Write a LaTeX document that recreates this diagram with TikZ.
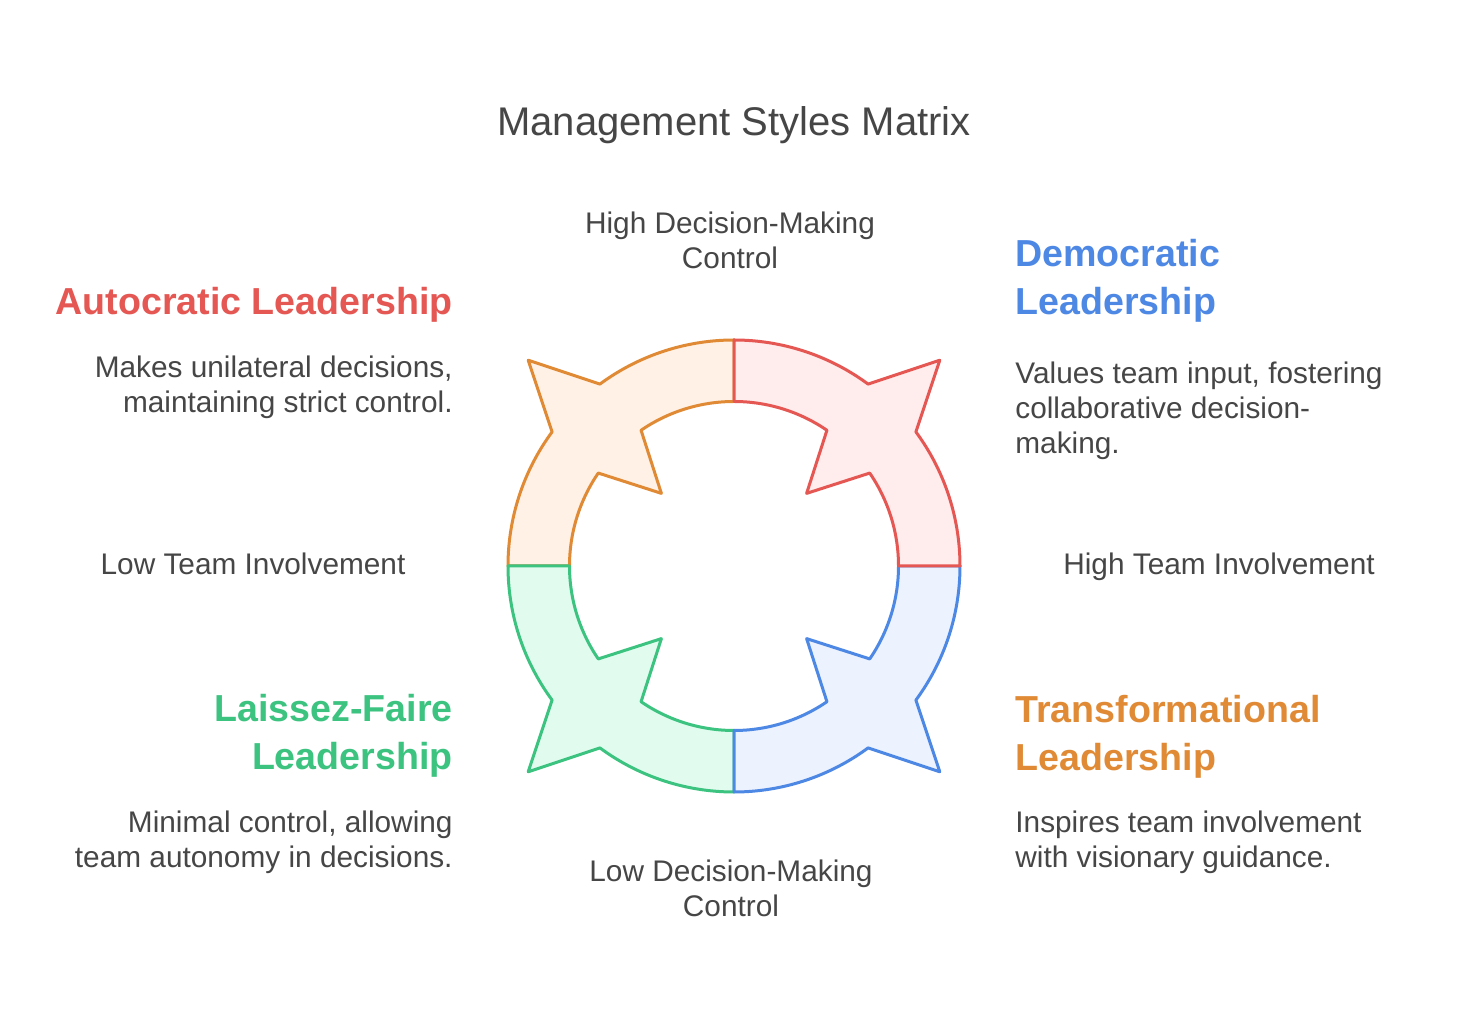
\documentclass[tikz,border=0pt]{standalone}
\usepackage{fontspec}
\setmainfont{Liberation Sans}
\definecolor{txt}{HTML}{464646}
\definecolor{qrdL}{HTML}{E55753}
\definecolor{qrdF}{HTML}{FFECEC}
\definecolor{qorL}{HTML}{E08A35}
\definecolor{qorF}{HTML}{FFF1E5}
\definecolor{qgrL}{HTML}{3CC380}
\definecolor{qgrF}{HTML}{E1FCEF}
\definecolor{qblL}{HTML}{4E88E5}
\definecolor{qblF}{HTML}{ECF2FE}
\tikzset{
  quad/.style={line width=1.5pt, line join=round},
  lbl/.style={inner sep=0pt, text=txt, font=\fontsize{14.9}{17.5}\selectfont},
  head/.style={inner sep=0pt, font=\fontsize{18.8}{24}\selectfont\bfseries},
  ttl/.style={inner sep=0pt, text=txt, font=\fontsize{20}{24}\selectfont},
}
\begin{document}
\begin{tikzpicture}[x=0.5pt,y=-0.5pt]
\useasboundingbox[fill=white] (0,0) rectangle (1469,1036);

\foreach \rot/\col in {90/qor, 180/qgr, 270/qbl, 0/qrd} {
  \begin{scope}[shift={(734,566)}, x=0.5pt, y=0.5pt, rotate=\rot]
    \draw[quad, draw=\col L, fill=\col F]
      (90:164.5) -- (90:226)
      arc[start angle=90, end angle=53.6, radius=226]
      -- (45:291) -- (36.4:226)
      arc[start angle=36.4, end angle=0, radius=226]
      -- (0:164.5)
      arc[start angle=0, end angle=34.4, radius=164.5]
      -- (45:102.7) -- (55.6:164.5)
      arc[start angle=55.6, end angle=90, radius=164.5]
      -- cycle;
  \end{scope}
}

\node[ttl, anchor=base] (title) at (734,136) {Management Styles Matrix};

\node[lbl, anchor=base] (hdm) at (730,234)
  {\begin{tabular}[t]{@{}c@{}}High Decision-Making\\Control\end{tabular}};
\node[lbl, anchor=base] (ldm) at (731,882)
  {\begin{tabular}[t]{@{}c@{}}Low Decision-Making\\Control\end{tabular}};
\node[lbl, anchor=base] (lti) at (253,575) {Low Team Involvement};
\node[lbl, anchor=base] (hti) at (1219,575) {High Team Involvement};

\node[head, text=qrdL, anchor=base east] (auto) at (453,315) {Autocratic Leadership};
\node[lbl, anchor=base east] (autod) at (453,378)
  {\begin{tabular}[t]{@{}r@{}}Makes unilateral decisions,\\maintaining strict control.\end{tabular}};

\node[head, text=qblL, anchor=base west] (demo) at (1015,267)
  {\begin{tabular}[t]{@{}l@{}}Democratic\\Leadership\end{tabular}};
\node[lbl, anchor=base west] (demod) at (1015,384)
  {\begin{tabular}[t]{@{}l@{}}Values team input, fostering\\collaborative decision-\\making.\end{tabular}};

\node[head, text=qgrL, anchor=base east] (lais) at (453,722)
  {\begin{tabular}[t]{@{}r@{}}Laissez-Faire\\Leadership\end{tabular}};
\node[lbl, anchor=base east] (laisd) at (453,833)
  {\begin{tabular}[t]{@{}r@{}}Minimal control, allowing\\team autonomy in decisions.\end{tabular}};

\node[head, text=qorL, anchor=base west] (trans) at (1015,723)
  {\begin{tabular}[t]{@{}l@{}}Transformational\\Leadership\end{tabular}};
\node[lbl, anchor=base west] (transd) at (1015,833)
  {\begin{tabular}[t]{@{}l@{}}Inspires team involvement\\with visionary guidance.\end{tabular}};
\end{tikzpicture}
\end{document}
